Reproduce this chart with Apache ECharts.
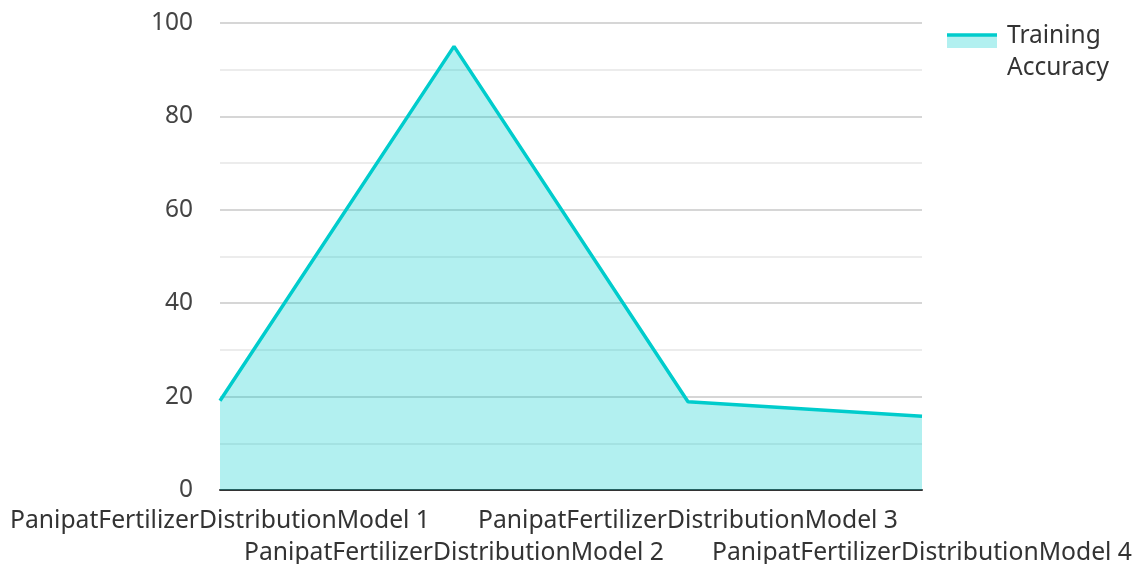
<!DOCTYPE html>
<html><head><meta charset="utf-8">
<script src="https://cdn.jsdelivr.net/npm/echarts@6/dist/echarts.min.js"></script>
<style>html,body{margin:0;padding:0;background:#fff}#c{width:1136px;height:564px}</style>
</head><body><div id="c"></div>
<script>
const categories = ['PanipatFertilizerDistributionModel 1','PanipatFertilizerDistributionModel 2','PanipatFertilizerDistributionModel 3','PanipatFertilizerDistributionModel 4'];
const trainingAccuracy = [19.1, 95, 18.9, 15.8];
const seriesName = 'Training Accuracy';
const legendLines = ['Training', 'Accuracy'];

const chart = echarts.init(document.getElementById('c'));
const font = "'Noto Sans', sans-serif";
chart.setOption({
  animation: false,
  textStyle: {fontFamily: font},
  grid: {left: 220, right: 214, top: 23, bottom: 74, containLabel: false, outerBoundsMode: 'none'},
  legend: {show: false},
  xAxis: {
    type: 'category', data: categories, boundaryGap: false,
    axisLine: {lineStyle: {color: '#333', width: 2}},
    axisTick: {show: false},
    axisLabel: {interval: 0, color: '#333', fontSize: 24.7, fontFamily: font, margin: 15, lineHeight: 32,
      formatter: (v, i) => (i % 2 ? '\n' + v : v)}
  },
  yAxis: {
    type: 'value', min: 0, max: 100, interval: 20,
    axisLine: {show: false}, axisTick: {show: false},
    axisLabel: {color: '#444', fontSize: 24.5, fontFamily: font, margin: 27},
    splitLine: {lineStyle: {color: '#c8c8c8', width: 1.5}},
    minorTick: {show: false, splitNumber: 2},
    minorSplitLine: {show: true, lineStyle: {color: '#e6e6e6', width: 1.5}}
  },
  graphic: [
    {type: 'rect', shape: {x: 947, y: 35, width: 50, height: 13}, style: {fill: 'rgba(0,204,204,0.3)'}},
    {type: 'line', shape: {x1: 947, y1: 35, x2: 997, y2: 35}, style: {stroke: '#00cccc', lineWidth: 3.5}},
    {type: 'text', left: 1007, top: 20, style: {text: legendLines.join('\n'), font: "24.5px 'Noto Sans'", lineHeight: 32, fill: '#333'}}
  ],
  series: [{
    name: seriesName, type: 'line', data: trainingAccuracy, showSymbol: false,
    lineStyle: {color: '#00cccc', width: 3.5},
    itemStyle: {color: '#00cccc'},
    areaStyle: {color: '#00cccc', opacity: 0.3}
  }]
});
</script></body></html>
